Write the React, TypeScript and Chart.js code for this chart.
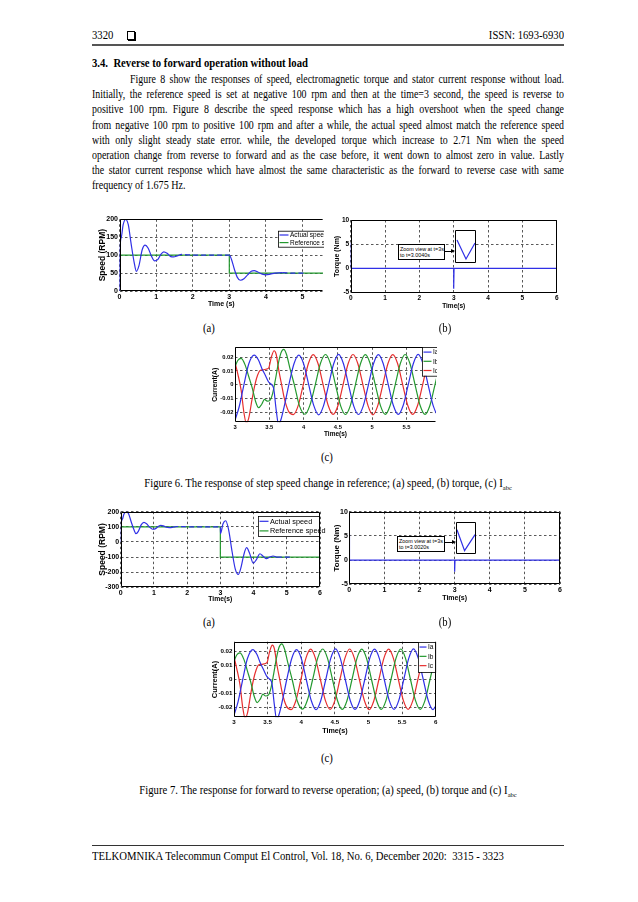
import React, { useEffect, useRef } from 'react';
import { Chart, registerables } from 'chart.js';
Chart.register(...registerables);

const BLUE = '#3030e6';
const GREEN = '#23992f';
const RED = '#e62e2e';
const SANS = '"Liberation Sans", Arial, sans-serif';
const SERIF = '"Liberation Serif", "Times New Roman", serif';
Chart.defaults.font.family = SANS;

// ---------------- tick labels ----------------
const speedTicks6 = [0, 50, 100, 150, 200];
const speedTicks7 = [-300, -200, -100, 0, 100, 200];
const torqueTicks = [-5, 0, 5, 10];
const timeTicks5 = [0, 1, 2, 3, 4, 5];
const timeTicks6 = [0, 1, 2, 3, 4, 5, 6];
const currentTicks = [-0.02, -0.01, 0, 0.01, 0.02];
const currentTimeTicks6 = [3, 3.5, 4, 4.5, 5, 5.5];
const currentTimeTicks7 = [3, 3.5, 4, 4.5, 5, 5.5, 6];

// ---------------- Figure 6(a) speed ----------------
const f6SpeedTime = [0, 0.005, 0.05, 0.1, 0.17, 0.24, 0.32, 0.4, 0.46, 0.53, 0.62, 0.7, 0.78, 0.87, 0.96, 1.05, 1.13, 1.21, 1.3, 1.4, 1.48, 1.58, 1.7, 1.85, 2.1, 2.5, 3.0, 3.06, 3.14, 3.22, 3.3, 3.4, 3.5, 3.6, 3.68, 3.78, 3.9, 4.0, 4.12, 4.25, 4.45, 4.7, 5.1];
const f6SpeedActual = [0, 95, 150, 185, 200, 185, 130, 80, 55, 70, 115, 128, 120, 98, 84, 88, 102, 109, 105, 96, 95, 98, 102, 101, 100, 100, 100, 88, 60, 38, 30, 34, 45, 55, 57, 53, 47, 45, 47, 50, 51, 50, 50];
const f6RefTime = [0, 3, 3, 6];
const f6RefSpeed = [100, 100, 50, 50];

// ---------------- Figure 7(a) speed ----------------
const f7SpeedTime = [0, 0.005, 0.05, 0.1, 0.17, 0.24, 0.32, 0.4, 0.46, 0.53, 0.62, 0.7, 0.78, 0.87, 0.96, 1.05, 1.13, 1.21, 1.3, 1.4, 1.48, 1.58, 1.7, 1.85, 2.1, 2.5, 3.0, 3.005, 3.08, 3.16, 3.25, 3.35, 3.45, 3.54, 3.62, 3.7, 3.79, 3.88, 3.99, 4.09, 4.19, 4.29, 4.39, 4.49, 4.59, 4.7, 4.85, 5.15];
const f7SpeedActual = [0, 95, 150, 185, 200, 185, 130, 80, 55, 70, 115, 130, 120, 98, 84, 88, 102, 110, 105, 96, 95, 98, 102, 101, 100, 100, 100, 55, 120, 140, 80, -60, -180, -215, -170, -90, -38, -75, -140, -115, -78, -95, -111, -100, -93, -100, -100, -100];
const f7RefTime = [0, 3, 3, 6];
const f7RefSpeed = [100, 100, -100, -100];

// ---------------- torque ----------------
const f6TorqueTime = [0, 0, 0.01, 3.0, 3.0, 3.01, 6];
const f6Torque = [5.3, 0, 0, 0, -4.2, 0, 0];
const f7TorqueTime = [0, 0, 0.01, 3.0, 3.0, 3.01, 6];
const f7Torque = [5.3, 0, 0, 0, -2.4, 0, 0];
// zoomed views (insets)
const f6InsetTime = [3.0004, 3.0022, 3.004];
const f6InsetTorque = [-1.0, -2.9, -1.3];
const f7InsetTime = [3.0001, 3.0009, 3.002];
const f7InsetTorque = [-0.77, -2.87, -1.27];

// ---------------- stator currents ----------------
const iaTime = [3.0, 3.06, 3.13, 3.2, 3.28, 3.34, 3.39, 3.44, 3.49, 3.53, 3.565, 3.6, 3.635, 3.67, 3.72, 3.785, 3.86, 3.93, 4.0, 4.075, 4.15, 4.22, 4.29, 4.365, 4.44, 4.51, 4.58, 4.655, 4.73, 4.8, 4.87, 4.945, 5.02, 5.09, 5.16, 5.235, 5.31, 5.38, 5.45, 5.525, 5.6, 5.67, 5.74, 5.815, 5.89, 5.96, 6.0];
const ia = [-0.0255, -0.016, 0, 0.015, 0.0214, 0.018, 0.012, 0.007, 0.002, 0.0003, -0.003, -0.018, -0.0285, -0.025, -0.015, 0, 0.0152, 0.0213, 0.0152, 0, -0.0152, -0.0216, -0.0152, 0, 0.0153, 0.0219, 0.0153, 0, -0.0152, -0.0214, -0.0152, 0, 0.0153, 0.0217, 0.0153, 0, -0.0151, -0.0213, -0.0151, 0, 0.0153, 0.0219, 0.0153, 0, -0.0152, -0.0215, -0.019];
const ibTime = [3.0, 3.04, 3.09, 3.15, 3.2, 3.25, 3.3, 3.345, 3.39, 3.43, 3.47, 3.51, 3.55, 3.59, 3.63, 3.67, 3.71, 3.75, 3.8, 3.865, 3.94, 4.02, 4.09, 4.17, 4.245, 4.32, 4.39, 4.465, 4.54, 4.61, 4.68, 4.755, 4.83, 4.9, 4.97, 5.045, 5.12, 5.19, 5.26, 5.335, 5.41, 5.48, 5.55, 5.625, 5.7, 5.77, 5.84, 5.915, 5.99];
const ib = [0.013, 0.0175, 0.019, 0.014, 0.006, -0.002, -0.012, -0.0165, -0.014, -0.0105, -0.0118, -0.0112, -0.006, 0.004, 0.015, 0.023, 0.0255, 0.022, 0.012, 0, -0.0152, -0.0212, -0.015, 0, 0.0153, 0.0218, 0.0153, 0, -0.0152, -0.0214, -0.0152, 0, 0.0153, 0.0217, 0.0153, 0, -0.015, -0.0213, -0.0151, 0, 0.0153, 0.0218, 0.0153, 0, -0.0151, -0.0213, -0.0151, 0, 0.0152];
const icTime = [3.0, 3.04, 3.09, 3.13, 3.165, 3.2, 3.25, 3.29, 3.33, 3.37, 3.41, 3.45, 3.49, 3.53, 3.57, 3.6, 3.64, 3.68, 3.72, 3.78, 3.85, 3.92, 3.995, 4.07, 4.14, 4.21, 4.285, 4.36, 4.43, 4.5, 4.575, 4.65, 4.72, 4.79, 4.865, 4.94, 5.01, 5.08, 5.155, 5.23, 5.3, 5.37, 5.445, 5.52, 5.59, 5.66, 5.735, 5.81, 5.88, 5.95, 6.0];
const ic = [0.016, 0.008, -0.004, -0.02, -0.0275, -0.024, -0.01, 0, 0.007, 0.0105, 0.0108, 0.0112, 0.012, 0.02, 0.0245, 0.022, 0.01, 0, -0.01, -0.019, -0.0215, -0.0152, 0, 0.0153, 0.0217, 0.0153, 0, -0.0151, -0.0213, -0.0151, 0, 0.0153, 0.0218, 0.0153, 0, -0.0152, -0.0216, -0.0152, 0, 0.0153, 0.0217, 0.0153, 0, -0.0151, -0.0213, -0.0151, 0, 0.0153, 0.0218, 0.0153, 0.006];

const pts = (xs: number[], ys: number[]) => xs.map((x, i) => ({ x, y: ys[i] }));

// ---------------- plugin: MATLAB-like frame + legend ----------------
const framePlugin = {
  id: 'frame',
  beforeDraw(chart: any, _a: any, opts: any) {
    if (opts && opts.bg) {
      const { ctx } = chart;
      ctx.save();
      ctx.fillStyle = '#fff';
      ctx.fillRect(0, 0, chart.width, chart.height);
      ctx.restore();
    }
  },
  afterDatasetsDraw(chart: any, _a: any, opts: any) {
    const { ctx, chartArea: a } = chart;
    ctx.save();
    ctx.strokeStyle = '#000';
    ctx.lineWidth = 1;
    const l = Math.round(a.left) + 0.5, t = Math.round(a.top) + 0.5;
    const r = Math.round(a.right) - 0.5, b = Math.round(a.bottom) - 0.5;
    ctx.beginPath();
    ctx.moveTo(r, t); ctx.lineTo(l, t); ctx.lineTo(l, b); ctx.lineTo(r, b);
    if (!opts.noRight) ctx.lineTo(r, t);
    ctx.stroke();
    const lg = opts.legend;
    if (lg) {
      ctx.fillStyle = '#fff';
      ctx.fillRect(lg.x, lg.y, lg.w, lg.h);
      ctx.strokeStyle = '#000';
      ctx.lineWidth = 0.8;
      ctx.strokeRect(lg.x + 0.5, lg.y + 0.5, lg.w, lg.h);
      const items = chart.data.datasets.filter((d: any) => d.legendEntry);
      items.forEach((d: any, i: number) => {
        const yy = lg.y + lg.pad + lg.rowH * (i + 0.5);
        ctx.strokeStyle = d.borderColor;
        ctx.lineWidth = 1.2;
        ctx.beginPath();
        ctx.moveTo(lg.x + 1.5, yy);
        ctx.lineTo(lg.x + 1.5 + lg.line, yy);
        ctx.stroke();
        ctx.fillStyle = '#000';
        ctx.font = `${lg.font}px ${SANS}`;
        ctx.textBaseline = 'middle';
        ctx.textAlign = 'left';
        ctx.fillText(d.label, lg.x + 3 + lg.line, yy + 0.5);
      });
    }
    ctx.restore();
  },
};

type Spec = {
  canvas: { l: number; t: number; w: number; h: number };
  plot: { l: number; t: number; r: number; b: number };
  xMin: number; xMax: number; xTicks: number[];
  yMin: number; yMax: number; yTicks: number[];
  xTitle: string; yTitle: string;
  xTitleY: number; yTitleX: number;
  xTitleSize: number; yTitleSize: number; tickSize: number;
  datasets: any[];
  legend?: { x: number; y: number; w: number; h: number; pad: number; rowH: number; line: number; font: number };
  noRight?: boolean;
};

function Panel({ spec }: { spec: Spec }) {
  const ref = useRef<HTMLCanvasElement>(null);
  useEffect(() => {
    const c = spec.canvas, p = spec.plot;
    const xLh = spec.xTitleSize * 1.2, yLh = spec.yTitleSize * 1.2;
    const tickFont = { size: spec.tickSize, weight: 'bold' as const, family: SANS };
    const gridOpts = { color: '#111', lineWidth: 0.7, drawTicks: false };
    const legend = spec.legend
      ? { ...spec.legend, x: spec.legend.x - c.l, y: spec.legend.y - c.t }
      : null;
    const chart = new Chart(ref.current as HTMLCanvasElement, {
      type: 'line',
      data: { datasets: spec.datasets },
      options: {
        responsive: false,
        animation: false,
        devicePixelRatio: 1,
        layout: {
          autoPadding: false,
          padding: { left: 0, top: p.t - c.t, right: c.l + c.w - p.r, bottom: 0 },
        },
        elements: { point: { radius: 0 } },
        plugins: {
          legend: { display: false },
          tooltip: { enabled: false },
          frame: { legend, noRight: !!spec.noRight },
        } as any,
        scales: {
          x: {
            type: 'linear',
            min: spec.xMin,
            max: spec.xMax,
            afterBuildTicks: (s: any) => { s.ticks = spec.xTicks.map((v) => ({ value: v })); },
            afterFit: (s: any) => { s.height = c.t + c.h - p.b; },
            ticks: { font: tickFont, color: '#000', padding: 1.5, maxRotation: 0, autoSkip: false, callback: (v: any) => String(v) },
            grid: gridOpts,
            border: { display: false, dash: [2.5, 2.5] },
            title: {
              display: true, text: spec.xTitle, color: '#000',
              font: { size: spec.xTitleSize, weight: 'bold', family: SANS },
              padding: { top: 0, bottom: c.t + c.h - spec.xTitleY - xLh / 2 },
            },
          },
          y: {
            type: 'linear',
            min: spec.yMin,
            max: spec.yMax,
            afterBuildTicks: (s: any) => { s.ticks = spec.yTicks.map((v) => ({ value: v })); },
            afterFit: (s: any) => { s.width = p.l - c.l; },
            ticks: { font: tickFont, color: '#000', padding: 1.5, autoSkip: false, callback: (v: any) => String(v) },
            grid: gridOpts,
            border: { display: false, dash: [2.5, 2.5] },
            title: {
              display: true, text: spec.yTitle, color: '#000',
              font: { size: spec.yTitleSize, weight: 'bold', family: SANS },
              padding: { top: spec.yTitleX - c.l - yLh / 2, bottom: 0 },
            },
          },
        },
      } as any,
      plugins: [framePlugin],
    });
    return () => chart.destroy();
  }, []);
  const c = spec.canvas;
  return (
    <canvas ref={ref} width={c.w} height={c.h}
      style={{ position: 'absolute', left: c.l, top: c.t, width: c.w, height: c.h }} />
  );
}

function Inset({ box, time, torque, xMin, xMax, yMin, yMax }: any) {
  const ref = useRef<HTMLCanvasElement>(null);
  useEffect(() => {
    const chart = new Chart(ref.current as HTMLCanvasElement, {
      type: 'line',
      data: { datasets: [{ data: pts(time, torque), borderColor: BLUE, borderWidth: 1.2, tension: 0, pointRadius: 0 }] },
      options: {
        responsive: false, animation: false, devicePixelRatio: 1,
        layout: { padding: 0, autoPadding: false },
        plugins: { legend: { display: false }, tooltip: { enabled: false }, frame: { bg: true } } as any,
        scales: {
          x: { type: 'linear', display: false, min: xMin, max: xMax },
          y: { type: 'linear', display: false, min: yMin, max: yMax },
        },
      } as any,
      plugins: [framePlugin],
    });
    return () => chart.destroy();
  }, []);
  return (
    <canvas ref={ref} width={box.w} height={box.h}
      style={{ position: 'absolute', left: box.l, top: box.t, width: box.w, height: box.h }} />
  );
}

function ZoomNote({ l, t, w, h, lines, arrowY, arrowEnd }: any) {
  return (
    <>
      <div style={{
        position: 'absolute', left: l, top: t, width: w, height: h, boxSizing: 'border-box',
        border: '1px solid #000', background: '#fff', fontFamily: SANS, fontSize: 5.4,
        lineHeight: '6.4px', padding: '1px 0 0 1px', color: '#000', whiteSpace: 'nowrap', overflow: 'hidden',
      }}>
        {lines.map((s: string, i: number) => <div key={i}>{s}</div>)}
      </div>
      <div style={{ position: 'absolute', left: l + w, top: arrowY, width: arrowEnd - (l + w) - 3, height: 1, background: '#000' }} />
      <div style={{
        position: 'absolute', left: arrowEnd - 4, top: arrowY - 2, width: 0, height: 0,
        borderTop: '2.5px solid transparent', borderBottom: '2.5px solid transparent', borderLeft: '4px solid #000',
      }} />
    </>
  );
}

function Txt({ x, y, w, align = 'left', bold = false, size = 11.5, k = 0.93, children }: any) {
  return (
    <div style={{ position: 'absolute', left: x, top: y - 8, width: w, height: 16, overflow: 'hidden' }}>
      <div style={{
        width: w / k, transform: `scaleX(${k})`, transformOrigin: '0 0',
        fontFamily: SERIF, fontSize: size, lineHeight: '16px', color: '#000',
        textAlign: align === 'justify' ? 'justify' : align,
        textAlignLast: align === 'justify' ? 'justify' : align,
        fontWeight: bold ? 700 : 400, whiteSpace: align === 'justify' ? 'normal' : 'nowrap',
      } as any}>{children}</div>
    </div>
  );
}

// steady-state parts of the measured speed trace look broken (dashed) in the scan
const steadyDash = (ranges: number[][]) => ({
  borderDash: (ctx: any) => {
    const x0 = ctx.p0.parsed.x, x1 = ctx.p1.parsed.x;
    return ranges.some(([a, b]) => x0 >= a && x1 <= b) ? [5, 3] : undefined;
  },
});

const blueLine = (label: string, data: any[], legendEntry = true, mono = true, dashRanges?: number[][]) => ({
  label, data, borderColor: BLUE, borderWidth: 1.2, pointRadius: 0, legendEntry,
  cubicInterpolationMode: mono ? 'monotone' : 'default', tension: mono ? 0.4 : 0,
  ...(dashRanges ? { segment: steadyDash(dashRanges) } : {}),
});

const specs: Spec[] = [
  {
    canvas: { l: 92, t: 212, w: 232, h: 100 }, plot: { l: 119.5, t: 219.3, r: 323, b: 291 },
    xMin: 0, xMax: 5.56, xTicks: timeTicks5, yMin: 0, yMax: 200, yTicks: speedTicks6,
    xTitle: 'Time (s)', yTitle: 'Speed (RPM)', xTitleY: 304, yTitleX: 103,
    xTitleSize: 7, yTitleSize: 8.5, tickSize: 7, noRight: true,
    legend: { x: 278, y: 230.7, w: 64, h: 16, pad: 0.5, rowH: 7.6, line: 9, font: 6.5 },
    datasets: [
      blueLine('Actual speed', pts(f6SpeedTime, f6SpeedActual), true, true, [[1.55, 3.0], [4.3, 6]]),
      { label: 'Reference speed', data: pts(f6RefTime, f6RefSpeed), borderColor: GREEN, borderWidth: 1.2, tension: 0, pointRadius: 0, legendEntry: true },
    ],
  },
  {
    canvas: { l: 330, t: 212, w: 235, h: 100 }, plot: { l: 350.7, t: 220, r: 556.7, b: 292.7 },
    xMin: 0, xMax: 6, xTicks: timeTicks6, yMin: -5, yMax: 10, yTicks: torqueTicks,
    xTitle: 'Time(s)', yTitle: 'Torque (Nm)', xTitleY: 306, yTitleX: 337,
    xTitleSize: 6.5, yTitleSize: 7, tickSize: 6.5,
    datasets: [blueLine('Torque', pts(f6TorqueTime, f6Torque), false, false)],
  },
  {
    canvas: { l: 198, t: 340, w: 239, h: 100 }, plot: { l: 235, t: 347.3, r: 436, b: 422.3 },
    xMin: 3, xMax: 5.93, xTicks: currentTimeTicks6, yMin: -0.027, yMax: 0.027, yTicks: currentTicks,
    xTitle: 'Time(s)', yTitle: 'Current(A)', xTitleY: 434, yTitleX: 215.5,
    xTitleSize: 6.5, yTitleSize: 6.8, tickSize: 5.8, noRight: true,
    legend: { x: 422, y: 347, w: 30, h: 28.7, pad: 0.5, rowH: 9.2, line: 8, font: 6.5 },
    datasets: [
      { ...blueLine('Ia', pts(iaTime, ia)) },
      { label: 'Ib', data: pts(ibTime, ib), borderColor: GREEN, borderWidth: 1.2, pointRadius: 0, cubicInterpolationMode: 'monotone', legendEntry: true },
      { label: 'Ic', data: pts(icTime, ic), borderColor: RED, borderWidth: 1.2, pointRadius: 0, cubicInterpolationMode: 'monotone', legendEntry: true },
    ],
  },
  {
    canvas: { l: 92, t: 504, w: 236, h: 103 }, plot: { l: 120.7, t: 511.7, r: 320, b: 587.3 },
    xMin: 0, xMax: 6, xTicks: timeTicks6, yMin: -300, yMax: 200, yTicks: speedTicks7,
    xTitle: 'Time(s)', yTitle: 'Speed (RPM)', xTitleY: 599, yTitleX: 102.7,
    xTitleSize: 6.8, yTitleSize: 8.5, tickSize: 7,
    legend: { x: 258, y: 516, w: 61, h: 20, pad: 0.5, rowH: 9.6, line: 9, font: 7.3 },
    datasets: [
      blueLine('Actual speed', pts(f7SpeedTime, f7SpeedActual), true, true, [[1.55, 3.0], [4.6, 6]]),
      { label: 'Reference speed', data: pts(f7RefTime, f7RefSpeed), borderColor: GREEN, borderWidth: 1.2, tension: 0, pointRadius: 0, legendEntry: true },
    ],
  },
  {
    canvas: { l: 328, t: 504, w: 240, h: 103 }, plot: { l: 349.3, t: 511.7, r: 560, b: 584.3 },
    xMin: 0, xMax: 6, xTicks: timeTicks6, yMin: -5, yMax: 10, yTicks: torqueTicks,
    xTitle: 'Time(s)', yTitle: 'Torque (Nm)', xTitleY: 598, yTitleX: 337,
    xTitleSize: 7, yTitleSize: 8, tickSize: 7,
    datasets: [blueLine('Torque', pts(f7TorqueTime, f7Torque), false, false)],
  },
  {
    canvas: { l: 198, t: 635, w: 245, h: 105 }, plot: { l: 234, t: 641.7, r: 435.7, b: 717.3 },
    xMin: 3, xMax: 6, xTicks: currentTimeTicks7, yMin: -0.027, yMax: 0.027, yTicks: currentTicks,
    xTitle: 'Time(s)', yTitle: 'Current(A)', xTitleY: 730.7, yTitleX: 214.5,
    xTitleSize: 7.2, yTitleSize: 7.5, tickSize: 6.2,
    legend: { x: 418, y: 642, w: 17.2, h: 30, pad: 0.4, rowH: 9.3, line: 7, font: 6.5 },
    datasets: [
      { ...blueLine('Ia', pts(iaTime, ia)) },
      { label: 'Ib', data: pts(ibTime, ib), borderColor: GREEN, borderWidth: 1.2, pointRadius: 0, cubicInterpolationMode: 'monotone', legendEntry: true },
      { label: 'Ic', data: pts(icTime, ic), borderColor: RED, borderWidth: 1.2, pointRadius: 0, cubicInterpolationMode: 'monotone', legendEntry: true },
    ],
  },
];

const paragraph = [
  'Initially, the reference speed is set at negative 100 rpm and then at the time=3 second, the speed is reverse to',
  'positive 100 rpm. Figure 8 describe the speed response which has a high overshoot when the speed change',
  'from negative 100 rpm to positive 100 rpm and after a while, the actual speed almost match the reference speed',
  'with only slight steady state error. while, the developed torque which increase to 2.71 Nm when the speed',
  'operation change from reverse to forward and as the case before, it went down to almost zero in value. Lastly',
  'the stator current response which have almost the same characteristic as the forward to reverse case with same',
];

export default function App() {
  const lineYs = [94.2, 109.4, 124.6, 139.8, 155, 170.2];
  return (
    <div style={{ position: 'absolute', left: 0, top: 0, width: 638, height: 902, background: '#fff', overflow: 'hidden' }}>
      {/* header */}
      <Txt x={92} y={34.5} w={60}>3320</Txt>
      <div style={{ position: 'absolute', left: 127, top: 30.5, width: 6, height: 7, border: '1px solid #000', boxShadow: '1px 1px 0 #000' }} />
      <Txt x={92} y={34.5} w={472} align="right">ISSN: 1693-6930</Txt>
      <div style={{ position: 'absolute', left: 92, top: 44, width: 472, height: 2, background: '#555' }} />

      <Txt x={92} y={63} w={472} bold>3.4.{'\u00a0\u00a0'}Reverse to forward operation without load</Txt>
      <Txt x={130} y={79} w={434} align="justify" k={0.86}>Figure 8 show the responses of speed, electromagnetic torque and stator current response without load.</Txt>
      {paragraph.map((s, i) => (
        <Txt key={i} x={92} y={lineYs[i]} w={472} align="justify" k={0.86}>{s}</Txt>
      ))}
      <Txt x={92} y={185.4} w={472} k={0.88}>frequency of 1.675 Hz.</Txt>

      {/* Figure 6 */}
      {specs.slice(0, 3).map((s, i) => <Panel key={i} spec={s} />)}
      <Inset box={{ l: 455, t: 230, w: 21, h: 33 }} time={f6InsetTime} torque={f6InsetTorque}
        xMin={3.0} xMax={3.0042} yMin={-3.3} yMax={0} />
      <ZoomNote l={398} t={244} w={47} h={16} lines={['Zoom view at t=3s', 'to t=3.0040s']} arrowY={250.5} arrowEnd={455} />
      <Txt x={189} y={328} w={40} align="center">(a)</Txt>
      <Txt x={425} y={328} w={40} align="center">(b)</Txt>
      <Txt x={307} y={457} w={40} align="center">(c)</Txt>
      <Txt x={92} y={482.7} w={472} align="center">
        Figure 6. The response of step speed change in reference; (a) speed, (b) torque, (c) I<sub style={{ fontSize: 7 }}>abc</sub>
      </Txt>

      {/* Figure 7 */}
      {specs.slice(3).map((s, i) => <Panel key={i} spec={s} />)}
      <Inset box={{ l: 456, t: 522, w: 20, h: 32 }} time={f7InsetTime} torque={f7InsetTorque}
        xMin={3.0} xMax={3.0021} yMin={-3.2} yMax={0} />
      <ZoomNote l={397} t={536} w={48} h={16} lines={['Zoom view at t=3s', 'to t=3.0020s']} arrowY={541.5} arrowEnd={456} />
      <Txt x={189} y={621.7} w={40} align="center">(a)</Txt>
      <Txt x={425} y={621.7} w={40} align="center">(b)</Txt>
      <Txt x={307} y={758} w={40} align="center">(c)</Txt>
      <Txt x={92} y={789.7} w={472} align="center">
        Figure 7. The response for forward to reverse operation; (a) speed, (b) torque and (c) I<sub style={{ fontSize: 7 }}>abc</sub>
      </Txt>

      {/* footer */}
      <div style={{ position: 'absolute', left: 92, top: 844.5, width: 472, height: 1.5, background: '#333' }} />
      <Txt x={92} y={855.5} w={472}>TELKOMNIKA Telecommun Comput El Control, Vol. 18, No. 6, December 2020:{'\u00a0\u00a0'}3315 - 3323</Txt>
    </div>
  );
}
